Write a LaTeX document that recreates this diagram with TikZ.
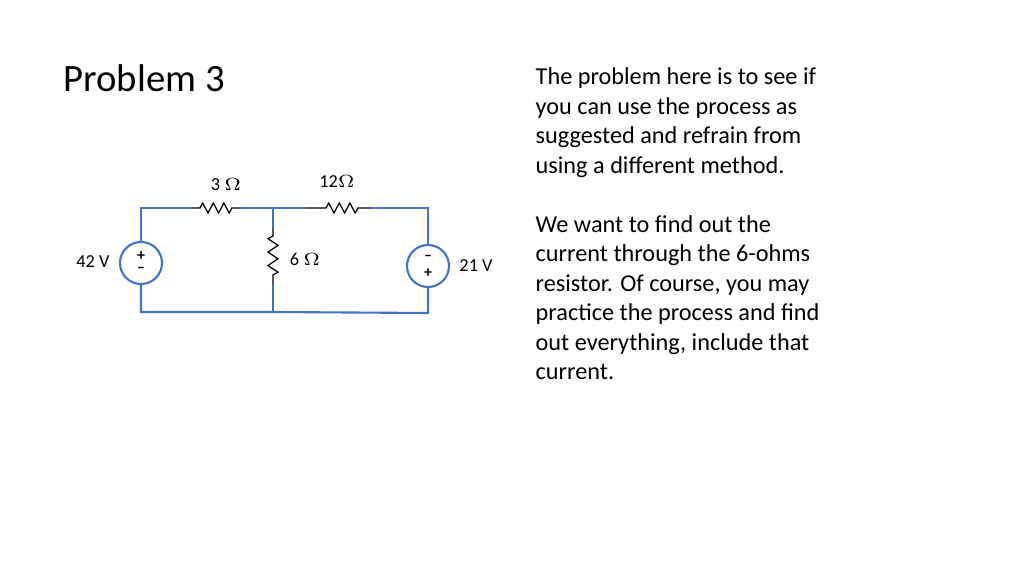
\documentclass[tikz,border=0pt]{standalone}
\usepackage{fontspec}
\setmainfont{Carlito}
\usepackage{tikz}
\definecolor{wireblue}{RGB}{68,114,196}
\tikzset{
  wire/.style={draw=wireblue, line width=0.6pt},
  src/.style={circle, draw=wireblue, line width=0.6pt, minimum size=0.42cm, inner sep=0pt},
  lbl/.style={font=\fontsize{5.2}{6}\selectfont},
  sgn/.style={font=\fontsize{4.5}{5}\selectfont\bfseries, inner sep=0pt},
  res/.style={draw=black, line width=0.35pt}
}
\begin{document}
\begin{tikzpicture}[x=0.01cm, y=-0.01cm]
	\useasboundingbox (0,0) rectangle (1024,576);
	% text
	\node (title) at (63,78) [anchor=west, inner sep=0pt, font=\fontsize{11}{13}\selectfont] {Problem 3};
	\node (note) at (535,67) [anchor=north west, align=left, inner sep=0pt,
	  font=\fontsize{6.9}{8.4}\selectfont] {The problem here is to see if\\
	  you can use the process as\\ suggested and refrain from\\ using a different method.\\[8.4pt]
	  We want to find out the\\ current through the 6-ohms\\ resistor. Of course, you may\\
	  practice the process and find\\ out everything, include that\\ current.};
	% corners
	\coordinate (tl) at (141,208);
	\coordinate (tm) at (273,208);
	\coordinate (tr) at (428,208);
	\coordinate (bl) at (141,312);
	\coordinate (bm) at (273,312);
	\coordinate (br) at (428,313);
	% sources
	\node (v1) at (141,263) [src] {};
	\node (v2) at (428,266) [src] {};
	\node at (141,256) [sgn] {+};
	\node at (141,270) [sgn] {--};
	\node at (428,258) [sgn] {--};
	\node at (428,273) [sgn] {+};
	\node (v1l) at (93,262) [lbl] {42 V};
	\node (v2l) at (476,266) [lbl] {21 V};
	% resistor ends
	\coordinate (r1a) at (192,208); \coordinate (r1b) at (240,208);
	\coordinate (r2a) at (306,208); \coordinate (r2b) at (372,208);
	\coordinate (r3a) at (273,228); \coordinate (r3b) at (273,285);
	% wires
	\draw[wire] (v1) -- (tl) -- (r1a);
	\draw[wire] (r1b) -- (tm) -- (r2a);
	\draw[wire] (r2b) -- (tr) -- (v2);
	\draw[wire] (v1) -- (bl) -- (bm) -- (br) -- (v2);
	\draw[wire] (tm) -- (r3a);
	\draw[wire] (r3b) -- (bm);
	% resistors
	\draw[res] (r1a) -- ++(8,0) -- ++(2.7,-5) -- ++(5.3,10) -- ++(5.3,-10) -- ++(5.3,10)
	  -- ++(5.3,-10) -- ++(5.3,10) -- ++(2.7,-5) -- (r1b);
	\draw[res] (r2a) -- ++(20,0) -- ++(2.7,-5) -- ++(5.3,10) -- ++(5.3,-10) -- ++(5.3,10)
	  -- ++(5.3,-10) -- ++(5.3,10) -- ++(2.7,-5) -- (r2b);
	\draw[res] (r3a) -- ++(0,8) -- ++(-5,2.7) -- ++(10,6.7) -- ++(-10,6.7) -- ++(10,6.7)
	  -- ++(-10,6.7) -- ++(10,6.7) -- ++(-5,2.7) -- (r3b);
	\node (r1l) at (226,185) [lbl] {3 $\Omega$};
	\node (r2l) at (337,182) [lbl] {12$\Omega$};
	\node (r3l) at (305,259) [lbl] {6 $\Omega$};
\end{tikzpicture}
\end{document}
